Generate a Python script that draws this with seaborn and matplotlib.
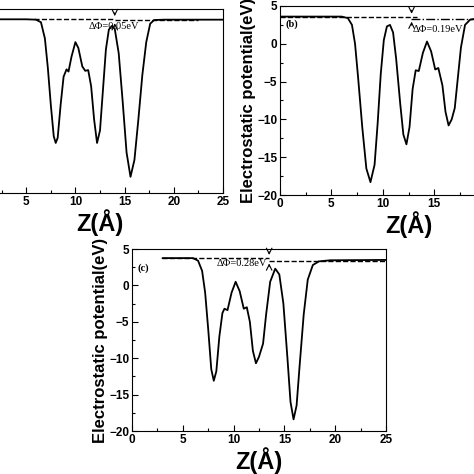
import matplotlib
matplotlib.use("Agg")
import matplotlib.pyplot as plt
import seaborn as sns
from matplotlib.ticker import MultipleLocator

sns.set_style("ticks", {'axes.edgecolor': 'black', 'xtick.color': 'black', 'ytick.color': 'black', 'text.color': 'black', 'axes.labelcolor': 'black'})
plt.rcParams['font.family'] = ['Liberation Sans', 'DejaVu Sans']

za = [0, 5, 6, 6.5, 6.9, 7.2, 7.5, 7.8, 8.0, 8.2, 8.5, 8.8, 9.1, 9.3, 9.6, 10.0, 10.3, 10.7, 11.0, 11.3, 11.6, 11.9, 12.2, 12.5, 12.8, 13.1, 13.4, 13.7, 14.0, 14.4, 14.8, 15.2, 15.6, 16.0, 16.4, 16.8, 17.2, 17.6, 18, 19, 25]
va = [3.6, 3.6, 3.55, 3.2, 1, -3, -8, -12.3, -13.2, -12.5, -8, -4.2, -3.2, -3.5, -1.5, 0.5, -0.3, -2.8, -3.4, -3.3, -5.5, -10, -13.2, -11.5, -6, -0.5, 2.2, 2.7, 2.3, -1, -7.5, -14.5, -17.8, -15.5, -10, -4, 0.5, 3, 3.5, 3.55, 3.55]
zb = [0, 6, 6.6, 7, 7.3, 7.6, 8.0, 8.4, 8.8, 9.2, 9.5, 9.8, 10.1, 10.4, 10.7, 11.0, 11.3, 11.7, 12.0, 12.3, 12.6, 12.9, 13.2, 13.5, 13.9, 14.3, 14.7, 15.1, 15.4, 15.8, 16.1, 16.4, 16.7, 17.0, 17.3, 17.6, 18.0, 18.5, 19, 25]
vb = [3.6, 3.6, 3.4, 2.5, 0, -4.5, -11, -16.5, -18.3, -16, -10.5, -4, 0.5, 2.3, 2.5, 1.5, -2, -8, -12, -13.3, -11, -6, -3.5, -3.6, -1.2, 0.3, -1, -3.4, -3.2, -5.5, -9, -10.8, -10, -8.5, -4.5, -0.5, 2.5, 3.2, 3.3, 3.4]
zc = [3, 6, 6.5, 6.9, 7.2, 7.5, 7.8, 8.05, 8.3, 8.6, 8.9, 9.1, 9.4, 9.8, 10.2, 10.6, 11.0, 11.3, 11.6, 11.9, 12.2, 12.5, 12.9, 13.2, 13.6, 14.1, 14.5, 14.9, 15.3, 15.6, 15.9, 16.2, 16.5, 16.9, 17.3, 17.8, 18.4, 19.5, 25]
vc = [3.75, 3.75, 3.4, 2, -1, -6, -11.5, -13.1, -11.8, -7, -3.8, -3.2, -3.4, -1, 0.5, -0.8, -3.2, -3.0, -5, -9, -10.7, -9.8, -8, -4, 0.5, 2.3, 1.5, -2.5, -10, -16, -18.4, -16.5, -11, -4, 0.8, 2.8, 3.3, 3.45, 3.5]

W = 474.0
fig = plt.figure(figsize=(4.74, 4.74), dpi=100)

def make_ax(left, top, right, bottom):
    return fig.add_axes([left / W, 1 - bottom / W, (right - left) / W, (bottom - top) / W])

def style(ax, ylabel=True):
    ax.set_xlim(0, 25)
    ax.set_ylim(-20, 5)
    ax.xaxis.set_major_locator(MultipleLocator(5))
    ax.xaxis.set_minor_locator(MultipleLocator(2.5))
    ax.yaxis.set_major_locator(MultipleLocator(5))
    ax.yaxis.set_minor_locator(MultipleLocator(2.5))
    ax.tick_params(which='both', direction='in', labelsize=8.5, width=0.8, pad=2)
    ax.tick_params(which='major', length=4)
    ax.tick_params(which='minor', length=2)
    for lab in ax.get_xticklabels() + ax.get_yticklabels():
        lab.set_fontweight('bold')
    for s in ax.spines.values():
        s.set_linewidth(0.8)
    ax.set_xlabel('Z(Å)', fontsize=17, fontweight='bold', labelpad=1)
    ax.set_ylabel('Electrostatic potential(eV)' if ylabel else '', fontsize=12, fontweight='bold', labelpad=1)

def darr(ax, x, y1, y2):
    ax.annotate('', xy=(x, y1), xytext=(x, y1 + 1.2), arrowprops=dict(arrowstyle='->', lw=0.8, color='black'))
    ax.annotate('', xy=(x, y2), xytext=(x, y2 - 1.2), arrowprops=dict(arrowstyle='->', lw=0.8, color='black'))

# panel a
axa = make_ax(-23, 9, 223, 193)
sns.lineplot(x=za, y=va, ax=axa, color='black', lw=1.3, sort=False)
axa.plot([5.8, 14], [3.65, 3.65], 'k--', lw=1)
axa.plot([14, 22.5], [3.45, 3.45], 'k--', lw=1)
darr(axa, 14, 3.65, 3.45)
axa.text(11.3, 2.3, 'ΔΦ=0.05eV', fontsize=7.5, family='Liberation Serif')
style(axa, ylabel=False)

# panel b
axb = make_ax(280, 6, 537, 195)
sns.lineplot(x=zb, y=vb, ax=axb, color='black', lw=1.3, sort=False)
axb.plot([0, 13.3], [3.6, 3.6], 'k--', lw=1)
axb.plot([12.7, 25], [3.3, 3.3], 'k-.', lw=1)
darr(axb, 12.8, 3.6, 3.3)
axb.text(12.9, 1.6, 'ΔΦ=0.19eV', fontsize=7.5, family='Liberation Serif')
axb.text(0.5, 2.3, '(b)', fontsize=7.5, fontweight='bold', family='Liberation Serif')
style(axb)

# panel c
axc = make_ax(132, 249, 386, 431)
sns.lineplot(x=zc, y=vc, ax=axc, color='black', lw=1.3, sort=False)
axc.plot([3, 13.5], [3.8, 3.8], 'k--', lw=1)
axc.plot([13.5, 25], [3.4, 3.4], 'k--', lw=1)
darr(axc, 13.5, 3.8, 3.4)
axc.text(8.3, 2.7, 'ΔΦ=0.28eV', fontsize=7.5, family='Liberation Serif')
axc.text(0.5, 2.0, '(c)', fontsize=7.5, fontweight='bold', family='Liberation Serif')
style(axc)

fig.savefig('out.png', dpi=100)
